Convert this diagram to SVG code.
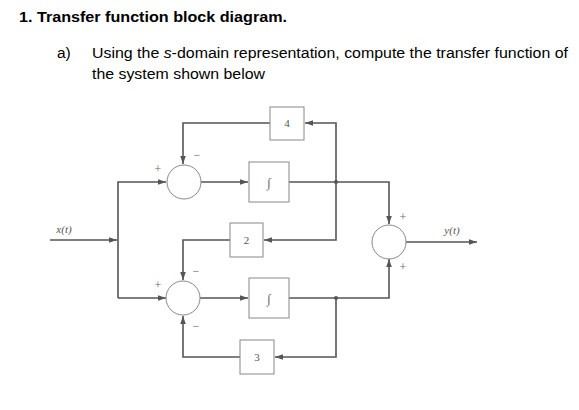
<svg xmlns="http://www.w3.org/2000/svg" width="579" height="410" viewBox="0 0 579 410">
<style>
.t{font-family:"Liberation Sans",Arial,sans-serif;fill:#000}
.w{stroke:#555;stroke-width:1.6;fill:none}
.blk{fill:#fff;stroke:#888;stroke-width:1}
.sum{fill:#fff;stroke:#888;stroke-width:1}
.lbl{font-family:"Liberation Serif","Times New Roman",serif;font-size:11px;fill:#555;text-anchor:middle}
.int{font-family:"Liberation Serif","Times New Roman",serif;font-size:13px;fill:#666;text-anchor:middle;font-style:italic}
.sg{font-family:"Liberation Serif",serif;font-size:12px;fill:#666;text-anchor:middle}
</style>
<defs>
<marker id="ah" viewBox="0 0 10 10" refX="10" refY="5" markerWidth="8" markerHeight="8" markerUnits="userSpaceOnUse" orient="auto">
<path d="M0,1.5 L10,5 L0,8.5 Z" fill="#555"/>
</marker>
</defs>
<rect width="579" height="410" fill="#fff"/>
<text class="t" x="19" y="22" font-size="14" font-weight="bold" textLength="268" lengthAdjust="spacingAndGlyphs">1. Transfer function block diagram.</text>
<text class="t" x="57" y="58" font-size="15.5">a)</text>
<text class="t" x="92" y="58" font-size="15.5" textLength="476" lengthAdjust="spacingAndGlyphs">Using the <tspan font-style="italic">s</tspan>-domain representation, compute the transfer function of</text>
<text class="t" x="92" y="79" font-size="15.5" textLength="173" lengthAdjust="spacingAndGlyphs">the system shown below</text>

<g id="connectors">
<path class="w" d="M50,240 H117" marker-end="url(#ah)"/>
<path class="w" d="M118,298 V182 H166" marker-end="url(#ah)"/>
<path class="w" d="M118,298 H166" marker-end="url(#ah)"/>
<path class="w" d="M201,182 H248" marker-end="url(#ah)"/>
<path class="w" d="M289,182 H389 V224" marker-end="url(#ah)"/>
<path class="w" d="M336,182 V123 H305" marker-end="url(#ah)"/>
<path class="w" d="M270,123 H183 V164" marker-end="url(#ah)"/>
<path class="w" d="M336,182 V240 H264" marker-end="url(#ah)"/>
<path class="w" d="M230,240 H183 V280" marker-end="url(#ah)"/>
<path class="w" d="M200,298 H248" marker-end="url(#ah)"/>
<path class="w" d="M289,298 H389 V259" marker-end="url(#ah)"/>
<path class="w" d="M336,298 V357 H275" marker-end="url(#ah)"/>
<path class="w" d="M240,357 H183 V316" marker-end="url(#ah)"/>
<path class="w" d="M406,242 H477" marker-end="url(#ah)"/>
<circle cx="336" cy="182" r="2" fill="#555"/>
<circle cx="336" cy="298" r="2" fill="#555"/>
</g>

<g id="sum1">
<circle class="sum" cx="184" cy="182" r="17"/>
<text class="sg" x="158" y="173">+</text>
<text class="sg" x="197" y="159">−</text>
</g>
<g id="sum2">
<circle class="sum" cx="183" cy="298" r="17"/>
<text class="sg" x="158" y="289">+</text>
<text class="sg" x="196" y="275">−</text>
<text class="sg" x="196" y="330">−</text>
</g>
<g id="sum3">
<circle class="sum" cx="389" cy="242" r="17"/>
<text class="sg" x="403" y="221">+</text>
<text class="sg" x="403" y="271">+</text>
</g>
<g id="gain4">
<rect class="blk" x="270" y="107" width="34" height="33"/>
<text class="lbl" x="287" y="127">4</text>
</g>
<g id="int1">
<rect class="blk" x="249" y="162" width="40" height="40"/>
<text class="int" x="269" y="187">∫</text>
</g>
<g id="gain2">
<rect class="blk" x="230" y="223" width="33" height="34"/>
<text class="lbl" x="246.5" y="244">2</text>
</g>
<g id="int2">
<rect class="blk" x="249" y="278" width="40" height="40"/>
<text class="int" x="269" y="303">∫</text>
</g>
<g id="gain3">
<rect class="blk" x="240" y="340" width="34" height="34"/>
<text class="lbl" x="257" y="361">3</text>
</g>
<g id="labels">
<text class="lbl" x="64" y="233" font-style="italic">x(t)</text>
<text class="lbl" x="452" y="234" font-style="italic">y(t)</text>
</g>
</svg>
